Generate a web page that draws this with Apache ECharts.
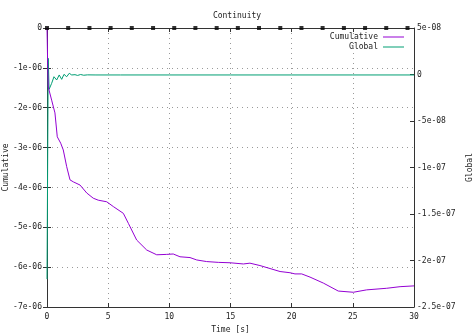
<!DOCTYPE html>
<html>
<head>
<meta charset="utf-8">
<script src="https://cdn.jsdelivr.net/npm/echarts@6/dist/echarts.min.js"></script>
<style>html,body{margin:0;padding:0;background:#fff}#c{width:474px;height:336px}</style>
</head>
<body>
<div id="c"></div>
<script>
const chartTitle = 'Continuity';
const seriesNames = ['Cumulative', 'Global'];
const xTickLabels = ['0', '5', '10', '15', '20', '25', '30'];
const leftTickLabels = ['-7e-06', '-6e-06', '-5e-06', '-4e-06', '-3e-06', '-2e-06', '-1e-06', '0'];
const rightTickLabels = ['-2.5e-07', '-2e-07', '-1.5e-07', '-1e-07', '-5e-08', '0', '5e-08'];

const cumTime = [0, 0.02, 0.06, 0.1, 0.2, 0.38, 0.65, 0.84, 1.12, 1.33, 1.61, 1.88, 2.15, 2.7, 3.25, 3.78, 4.19, 4.88, 5.42, 6.24, 6.65, 7.33, 8.15, 8.97, 9.79, 10.32, 10.87, 11.69, 12.24, 13.05, 14.0, 14.96, 16.05, 16.59, 17.41, 19.05, 19.86, 20.27, 20.82, 21.5, 22.59, 23.81, 25.04, 26.13, 27.77, 28.86, 30];
const cumValues = [0, -0.3e-6, -1.0e-6, -1.48e-6, -1.5e-6, -1.81e-6, -2.13e-6, -2.73e-6, -2.89e-6, -3.06e-6, -3.48e-6, -3.81e-6, -3.86e-6, -3.94e-6, -4.14e-6, -4.27e-6, -4.32e-6, -4.36e-6, -4.48e-6, -4.65e-6, -4.9e-6, -5.32e-6, -5.57e-6, -5.69e-6, -5.68e-6, -5.67e-6, -5.74e-6, -5.76e-6, -5.82e-6, -5.86e-6, -5.88e-6, -5.89e-6, -5.92e-6, -5.9e-6, -5.96e-6, -6.11e-6, -6.14e-6, -6.17e-6, -6.17e-6, -6.25e-6, -6.4e-6, -6.6e-6, -6.63e-6, -6.57e-6, -6.53e-6, -6.49e-6, -6.47e-6];

const globTime = [0, 0.1, 0.17, 0.38, 0.57, 0.79, 1.0, 1.2, 1.39, 1.61, 1.82, 2.02, 2.29, 2.5, 2.75, 3.0, 3.3, 4.0, 6.0, 10.0, 15.0, 20.0, 25.0, 30.0];
const globValues = [-2.2e-7, 1.74e-8, -1.6e-8, -0.95e-8, -0.24e-8, -0.59e-8, -0.05e-8, -0.52e-8, 0.02e-8, -0.24e-8, 0.13e-8, -0.05e-8, -0.02e-8, -0.1e-8, 0.0, -0.08e-8, -0.04e-8, -0.05e-8, -0.05e-8, -0.05e-8, -0.05e-8, -0.05e-8, -0.05e-8, -0.05e-8];

const markTime = [0, 1.73, 3.47, 5.2, 6.93, 8.67, 10.4, 12.13, 13.87, 15.6, 17.33, 19.07, 20.8, 22.53, 24.27, 26.0, 27.73, 29.47];
const markValues = [0, 0, 0, 0, 0, 0, 0, 0, 0, 0, 0, 0, 0, 0, 0, 0, 0, 0];

const FONT = 'DejaVu Sans Mono';
const TXT = '#222';
const BORDER = '#333';
const GRID = '#9a9a9a';

function pair(xs, ys) { return xs.map((x, i) => [x, ys[i]]); }
function labelFrom(list, min, interval) {
  return function (v) {
    const i = Math.round((v - min) / interval);
    return list[i] !== undefined ? list[i] : '';
  };
}

const chart = echarts.init(document.getElementById('c'), null, { renderer: 'canvas' });
chart.setOption({
  animation: false,
  backgroundColor: '#fff',
  textStyle: { fontFamily: FONT, fontSize: 8, color: TXT },
  title: {
    text: chartTitle, left: 'center', top: 7,
    textStyle: { fontFamily: FONT, fontSize: 8, fontWeight: 'normal', color: TXT }
  },
  legend: {
    data: seriesNames.map(n => ({ name: n, icon: 'rect' })),
    orient: 'vertical', align: 'right', right: 70, top: 32, padding: 0,
    itemWidth: 21, itemHeight: 1, itemGap: 0,
    textStyle: { fontFamily: FONT, fontSize: 8, color: TXT, lineHeight: 10 }
  },
  grid: { left: 47, right: 60, top: 28, bottom: 29, containLabel: false, outerBoundsMode: 'none' },
  xAxis: [{
    type: 'value', min: 0, max: 30, interval: 5, position: 'bottom',
    name: 'Time [s]', nameLocation: 'middle', nameGap: 19, nameMoveOverlap: false,
    nameTextStyle: { fontFamily: FONT, fontSize: 8, color: TXT },
    axisLine: { show: true, onZero: false, lineStyle: { color: BORDER, width: 1 } },
    axisTick: { show: true, inside: true, length: 4, lineStyle: { color: BORDER } },
    axisLabel: { margin: 6, fontFamily: FONT, fontSize: 8, color: TXT, formatter: labelFrom(xTickLabels, 0, 5) },
    splitLine: { show: true, lineStyle: { color: GRID, type: [1, 4], width: 1 } }
  }, {
    type: 'value', min: 0, max: 30, interval: 5, position: 'top',
    axisLine: { show: true, onZero: false, lineStyle: { color: BORDER, width: 1 } },
    axisTick: { show: true, inside: true, length: 4, lineStyle: { color: BORDER } },
    axisLabel: { show: false }, splitLine: { show: false }
  }],
  yAxis: [{
    type: 'value', min: -7e-6, max: 0, interval: 1e-6, position: 'left',
    name: 'Cumulative', nameLocation: 'middle', nameGap: 37, nameRotate: 90, nameMoveOverlap: false,
    nameTextStyle: { fontFamily: FONT, fontSize: 8, color: TXT },
    axisLine: { show: true, onZero: false, lineStyle: { color: BORDER, width: 1 } },
    axisTick: { show: true, inside: true, length: 4, lineStyle: { color: BORDER } },
    axisLabel: { margin: 5, fontFamily: FONT, fontSize: 8, color: TXT, formatter: labelFrom(leftTickLabels, -7e-6, 1e-6) },
    splitLine: { show: true, lineStyle: { color: GRID, type: [1, 4], width: 1 } }
  }, {
    type: 'value', min: -2.5e-7, max: 5e-8, interval: 5e-8, position: 'right',
    name: 'Global', nameLocation: 'middle', nameGap: 52, nameRotate: 90, nameMoveOverlap: false,
    nameTextStyle: { fontFamily: FONT, fontSize: 8, color: TXT },
    axisLine: { show: true, onZero: false, lineStyle: { color: BORDER, width: 1 } },
    axisTick: { show: true, inside: true, length: 4, lineStyle: { color: BORDER } },
    axisLabel: { margin: 3, fontFamily: FONT, fontSize: 8, color: TXT, formatter: labelFrom(rightTickLabels, -2.5e-7, 5e-8) },
    splitLine: { show: false }
  }, {
    type: 'value', min: -7e-6, max: 0, interval: 1e-6, position: 'right',
    axisLine: { show: false },
    axisTick: { show: true, inside: true, length: 4, lineStyle: { color: BORDER } },
    axisLabel: { show: false }, splitLine: { show: false }
  }],
  series: [{
    name: seriesNames[0], type: 'line', xAxisIndex: 0, yAxisIndex: 0,
    data: pair(cumTime, cumValues), symbol: 'none',
    lineStyle: { color: '#9400d3', width: 1 }, itemStyle: { color: '#9400d3' }, z: 3
  }, {
    name: seriesNames[1], type: 'line', xAxisIndex: 0, yAxisIndex: 1,
    data: pair(globTime, globValues), symbol: 'none',
    lineStyle: { color: '#009e73', width: 1 }, itemStyle: { color: '#009e73' }, z: 2
  }, {
    name: 'markers', type: 'scatter', xAxisIndex: 0, yAxisIndex: 0,
    data: pair(markTime, markValues), symbol: 'rect', symbolSize: 4,
    itemStyle: { color: '#000' }, clip: false, z: 5
  }]
});
</script>
</body>
</html>
